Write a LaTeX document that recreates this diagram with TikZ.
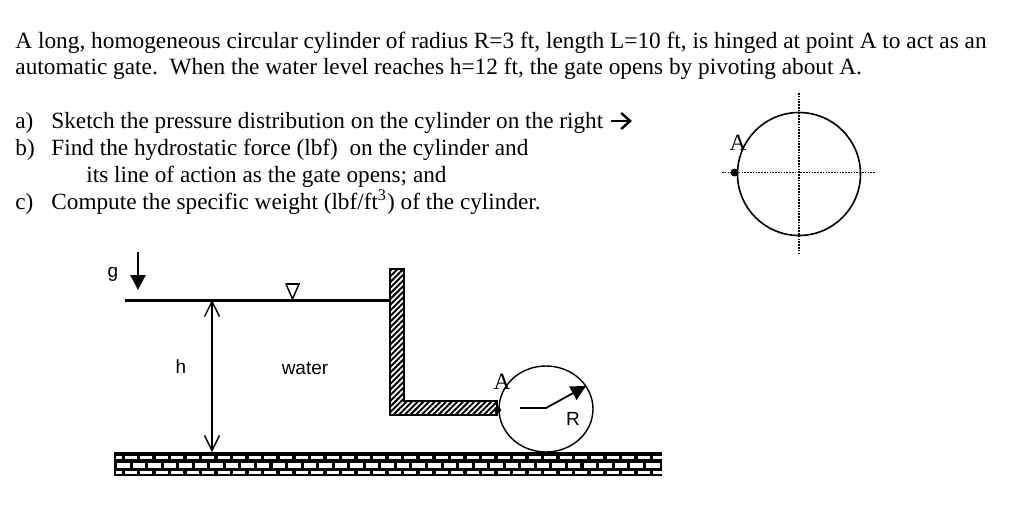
\documentclass[tikz,border=0pt]{standalone}
\usepackage{fontspec}
\setmainfont{Liberation Serif}
\setsansfont{Liberation Sans}
\usetikzlibrary{arrows.meta,patterns.meta}
\tikzset{
    problem/.style={anchor=base west, inner sep=0pt, font=\fontsize{11.66}{13}\selectfont},
    parttext/.style={problem, font=\fontsize{11.62}{13}\selectfont},
    sanslabel/.style={inner sep=0pt, font=\sffamily\fontsize{9.5}{10}\selectfont},
    pointlabel/.style={inner sep=0pt, font=\fontsize{11.66}{13}\selectfont},
    dotline/.style={line width=0.95pt, dash pattern=on 0.8pt off 0.6pt},
    hatched/.style={pattern={Lines[angle=45,distance=2pt,line width=1pt]}},
    hinge/.style={circle, fill=black, inner sep=0pt, minimum size=#1}
}

\begin{document}
\begin{tikzpicture}[x=0.5pt,y=-0.5pt]
    \useasboundingbox (0,0) rectangle (1024,514);
    % problem statement
    \node[problem] (line1) at (15,48) {A long, homogeneous circular cylinder of radius R=3 ft, length L=10 ft, is hinged at point A to act as an};
    \node[problem] (line2) at (15,75) {automatic gate.\ \ When the water level reaches h=12 ft, the gate opens by pivoting about A.};
    \node[parttext] (parta) at (15,128) {a)};
    \node[parttext] (texta) at (51,128) {Sketch the pressure distribution on the cylinder on the right};
    \node[parttext] (partb) at (15,155) {b)};
    \node[parttext] (textb) at (51,155) {Find the hydrostatic force (lbf)\ \ on the cylinder and};
    \node[parttext] (textbb) at (86,182) {its line of action as the gate opens; and};
    \node[parttext] (partc) at (15,209) {c)};
    \node[parttext] (textc) at (51,209) {Compute the specific weight (lbf/ft\textsuperscript{3}) of the cylinder.};
    \coordinate (rightA) at (611,121);
    \coordinate (rightB) at (632,121);
    \draw[line width=1.2pt, -{Straight Barb[length=4.5pt,width=8pt,line width=1.2pt]}] (rightA) -- (rightB);

    % small cylinder, top right
    \coordinate (smallc) at (799,174);
    \coordinate (smallN) at (799,93);
    \coordinate (smallS) at (799,253);
    \coordinate (smallW) at (722,172.5);
    \coordinate (smallE) at (875,172.5);
    \draw[dotline] (smallN) -- (smallS);
    \draw[dotline] (smallW) -- (smallE);
    \draw[line width=0.8pt] (smallc) circle (61.5);
    \node[hinge=4pt] (smallA) at (734.5,172.5) {};
    \node[pointlabel] (smallAlab) at (738,143) {A};

    % water
    \coordinate (surfL) at (125,300);
    \coordinate (surfR) at (389,300);
    \coordinate (hTop) at (212,300);
    \coordinate (hBot) at (212,452);
    \coordinate (gTop) at (138,252);
    \coordinate (gTip) at (138,290);
    \draw[line width=1.5pt] (surfL) -- (surfR);
    \draw[line width=1.2pt, -{Triangle[length=7.5pt,width=7.5pt]}] (gTop) -- (gTip);
    \draw[line width=0.7pt, {Straight Barb[length=7.5pt,width=7.5pt]}-{Straight Barb[length=7.5pt,width=7.5pt]}] (hTop) -- (hBot);
    \draw[line width=0.7pt, fill=white] (286,284) -- (299,284) -- (292.5,299) -- cycle;
    \draw[line width=1.1pt] (285.5,284) -- (299.5,284);
    \node[sanslabel] (glab) at (113,274) {g};
    \node[sanslabel] (hlab) at (181,367) {h};
    \node[sanslabel] (waterlab) at (305,368) {water};

    % gate
    \draw[hatched] (389.5,268.5) -- (404,268.5) -- (404,400.5) -- (497,400.5) -- (497,414.5) -- (389.5,414.5) -- cycle;
    \draw[line width=1pt] (389.5,268.5) -- (404,268.5) -- (404,400.5) -- (497,400.5) -- (497,414.5) -- (389.5,414.5) -- cycle;

    % floor
    \fill (114,452) rectangle (662,476);
    \foreach \i in {0,...,34} {
        \fill[white] ({124.5+15.55*\i},455.5) rectangle ({136.5+15.55*\i},459);
        \fill[white] ({124.5+15.55*\i},471) rectangle ({136.5+15.55*\i},474);
        \fill[white] ({117+15.55*\i},463) rectangle ({129.5+15.55*\i},467.5);
    }
    \fill[white] (116,455.5) rectangle (122,459);
    \fill[white] (116,471) rectangle (122,474);
    \fill[white] (656,463) rectangle (660,467.5);

    % big cylinder
    \draw[line width=0.7pt] (546,409) ellipse (47 and 43);
    \node[hinge=3.5pt] (bigA) at (497.5,410) {};
    \node[pointlabel] (bigAlab) at (502,382) {A};
    \node[sanslabel] (Rlab) at (573,419) {R};
    \coordinate (rStart) at (520,408);
    \coordinate (rKnee) at (546,408);
    \coordinate (rTip) at (586,386);
    \draw[line width=0.9pt, -{Triangle[length=7.5pt,width=7.5pt]}] (rStart) -- (rKnee) -- (rTip);
\end{tikzpicture}
\end{document}
